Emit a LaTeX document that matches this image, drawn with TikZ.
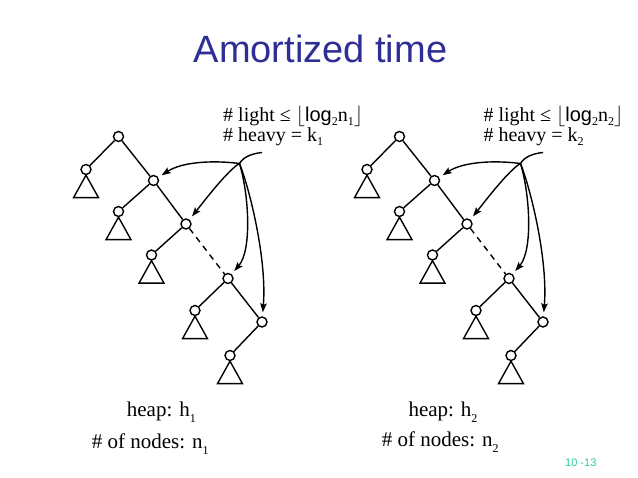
\documentclass[tikz,border=0pt]{standalone}
\usepackage{fontspec}
\setmainfont{Liberation Serif}
\newfontfamily\arialf{Liberation Sans}
\usetikzlibrary{arrows.meta}
\definecolor{titleblue}{RGB}{46,46,148}
\definecolor{pagegreen}{RGB}{40,208,150}
\newcommand{\lowsub}[2]{\raisebox{-#1pt}{\fontsize{12}{12}\selectfont #2}}
\begin{document}
\begin{tikzpicture}[x=1pt,y=-1pt,
  tnode/.style={circle,draw,minimum size=10pt,inner sep=0pt,line width=1.4pt},
  edge/.style={line width=1.4pt,line join=miter},
  dashededge/.style={line width=1.4pt,dash pattern=on 6pt off 5pt},
  arr/.style={line width=1.4pt,-{Stealth[length=9pt,width=6.5pt,inset=1.5pt]},shorten >=4pt},
  lead/.style={line width=1.4pt},
  toptext/.style={anchor=base west,inner sep=0pt,font=\fontsize{20}{21}\selectfont},
  bottext/.style={anchor=base west,inner sep=0pt,font=\fontsize{21}{22}\selectfont}]
\useasboundingbox (0,0) rectangle (638,478);
\fill[white] (0,0) rectangle (638,478);

\node[anchor=base,inner sep=0pt,font=\arialf\fontsize{38}{38}\selectfont,text=titleblue] (title) at (320.5,62.7) {Amortized time};

\foreach \s/\dx in {L/0,R/281}{
  \node[tnode] (\s-r) at ({118.5+\dx},136.5) {};
  \node[tnode] (\s-a) at ({86+\dx},169.5) {};
  \node[tnode] (\s-b) at ({153.5+\dx},180.5) {};
  \node[tnode] (\s-c) at ({118.5+\dx},211.5) {};
  \node[tnode] (\s-d) at ({186+\dx},224) {};
  \node[tnode] (\s-e) at ({151.5+\dx},255) {};
  \node[tnode] (\s-f) at ({228+\dx},278.5) {};
  \node[tnode] (\s-g) at ({195+\dx},310.5) {};
  \node[tnode] (\s-h) at ({262+\dx},322) {};
  \node[tnode] (\s-i) at ({230+\dx},355.5) {};
  \draw[edge] (\s-r) -- (\s-a);
  \draw[edge] (\s-r) -- (\s-b);
  \draw[edge] (\s-b) -- (\s-c);
  \draw[edge] (\s-b) -- (\s-d);
  \draw[edge] (\s-d) -- (\s-e);
  \draw[dashededge] (\s-d) -- (\s-f);
  \draw[edge] (\s-f) -- (\s-g);
  \draw[edge] (\s-f) -- (\s-h);
  \draw[edge] (\s-h) -- (\s-i);
  \foreach \t in {a,c,e,g,i}{
    \draw[edge] (\s-\t.south) -- ++(-12.5,22.5) -- ++(25,0) -- cycle;
  }
  \coordinate (\s-hub) at ({239.5+\dx},163.5);
  \coordinate (\s-lead) at ({262+\dx},152.5);
  \draw[lead] (\s-lead) .. controls ({252+\dx},153.5) and ({243+\dx},157) .. (\s-hub);
  \draw[arr] (\s-hub) .. controls ({212+\dx},160) and ({182+\dx},162) .. (\s-b);
  \draw[arr] (\s-hub) .. controls ({228+\dx},170) and ({205+\dx},200) .. (\s-d);
  \draw[arr] (\s-hub) .. controls ({249+\dx},195) and ({252+\dx},250) .. (\s-f);
  \draw[arr] (\s-hub) .. controls ({250+\dx},190) and ({267+\dx},260) .. (\s-h);
}

\node[toptext] (L-light) at (223,121.7) {\# light ≤ $\lfloor${\arialf log}\lowsub{4}{2}n\lowsub{4}{1}$\rfloor$};
\node[toptext] (L-heavy) at (223,141.7) {\# heavy = k\lowsub{4}{1}};
\node[toptext] (R-light) at (483.3,121.2) {\# light ≤ $\lfloor${\arialf log}\lowsub{4}{2}n\lowsub{4}{2}$\rfloor$};
\node[toptext] (R-heavy) at (483.3,141.7) {\# heavy = k\lowsub{4}{2}};

\node[bottext] (L-heap) at (126.7,417) {heap: h\lowsub{6}{1}};
\node[bottext] (L-nodes) at (91.7,449) {\# of nodes: n\lowsub{6}{1}};
\node[bottext] (R-heap) at (408.3,417) {heap: h\lowsub{6}{2}};
\node[bottext] (R-nodes) at (381.7,447) {\# of nodes: n\lowsub{6}{2}};

\node[anchor=base west,inner sep=0pt,font=\arialf\fontsize{11}{11}\selectfont,text=pagegreen] (pagenum) at (565,466.7) {10 -13};
\end{tikzpicture}
\end{document}
